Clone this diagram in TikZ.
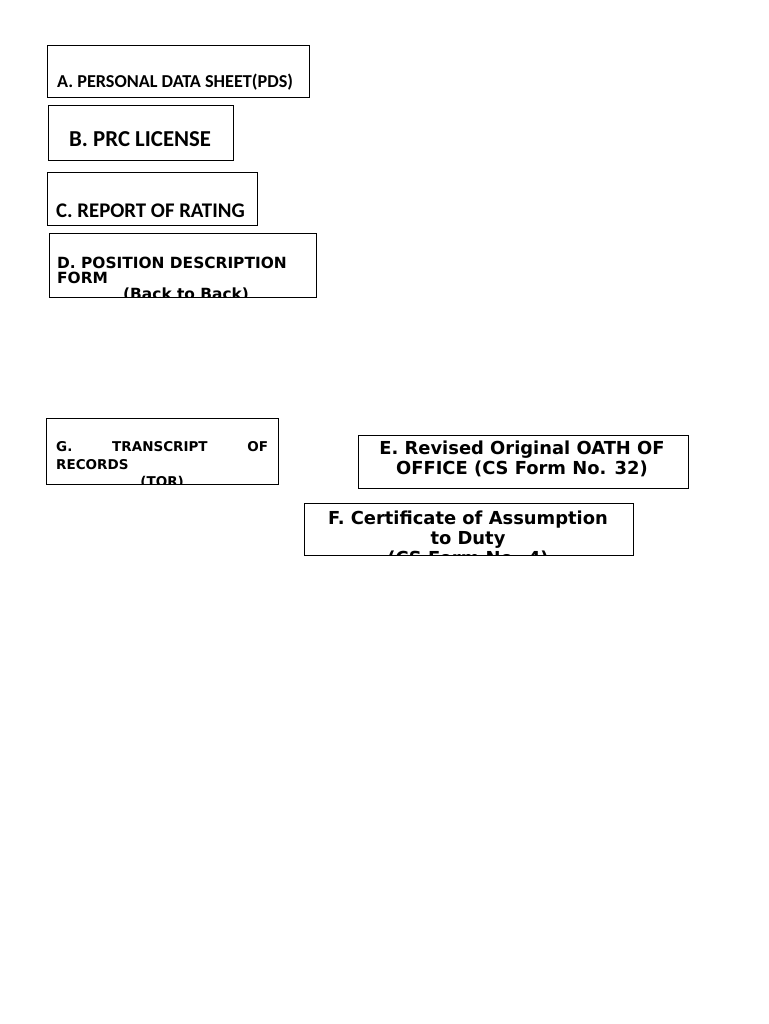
\documentclass[tikz,border=0pt]{standalone}
\usepackage{fontspec}
\setmainfont{DejaVu Sans}
\newfontfamily\carlito{Carlito}
\usetikzlibrary{positioning}

\begin{document}
\begin{tikzpicture}[x=1pt, y=-1pt]

% TikZ styles
\tikzset{
  docbox/.style={rectangle, draw=black, line width=0.8pt, inner sep=0pt, anchor=north west},
  capslabel/.style={anchor=base west, inner sep=0pt, font=\carlito\bfseries},
  formlabel/.style={anchor=base, inner sep=0pt, align=center, font=\bfseries\fontsize{17.9}{20}\selectfont}
}

\useasboundingbox (0,0) rectangle (768,1024);

%==========================
% Linke Spalte oben
%==========================
\node[docbox, minimum width=262pt, minimum height=52pt] (pds) at (47,45) {};
\node[capslabel, font=\carlito\bfseries\fontsize{18.2}{20}\selectfont] (pdstext) at (57,88) {A. PERSONAL DATA SHEET(PDS)};

\node[docbox, minimum width=185pt, minimum height=55pt] (prc) at (48,105) {};
\node[capslabel, font=\carlito\bfseries\fontsize{22.8}{24}\selectfont] (prctext) at (69,146.5) {B. PRC LICENSE};

\node[docbox, minimum width=210pt, minimum height=53pt] (rating) at (47,172) {};
\node[capslabel, font=\carlito\bfseries\fontsize{20.8}{22}\selectfont] (ratingtext) at (56,217.5) {C. REPORT OF RATING};

\node[docbox, minimum width=267pt, minimum height=64pt] (pdf) at (49,233) {};
\begin{scope}
  \clip (pdf.south west) rectangle (pdf.north east);
  \node[anchor=base west, inner sep=0pt, align=left, font=\bfseries\fontsize{15.4}{15.5}\selectfont] (pdftext) at (57,299)
    {D. POSITION DESCRIPTION\\FORM\\\hspace*{66pt}(Back to Back)};
\end{scope}

%==========================
% Mitte
%==========================
\node[docbox, minimum width=232pt, minimum height=66pt] (tor) at (46,418) {};
\begin{scope}
  \clip (tor.south west) rectangle (tor.north east);
  \node[anchor=base west, inner sep=0pt, align=left, font=\bfseries\fontsize{13.5}{17.5}\selectfont] (tortext) at (56,486.5)
    {\hbox to 212pt{G.\hfill TRANSCRIPT\hfill OF}\\RECORDS\\\hbox to 212pt{\hfil(TOR)\hfil}};
\end{scope}

\node[docbox, minimum width=330pt, minimum height=53pt] (oath) at (357.5,435) {};
\node[formlabel] (oathtext) at (522,474.5) {E. Revised Original OATH OF\\OFFICE (CS Form No. 32)};

\node[docbox, minimum width=329pt, minimum height=52pt] (assume) at (303.5,503) {};
\begin{scope}
  \clip (assume.south west) rectangle (assume.north east);
  \node[formlabel] (assumetext) at (468,564) {F. Certificate of Assumption\\to Duty\\(CS Form No. 4)};
\end{scope}

\end{tikzpicture}
\end{document}
